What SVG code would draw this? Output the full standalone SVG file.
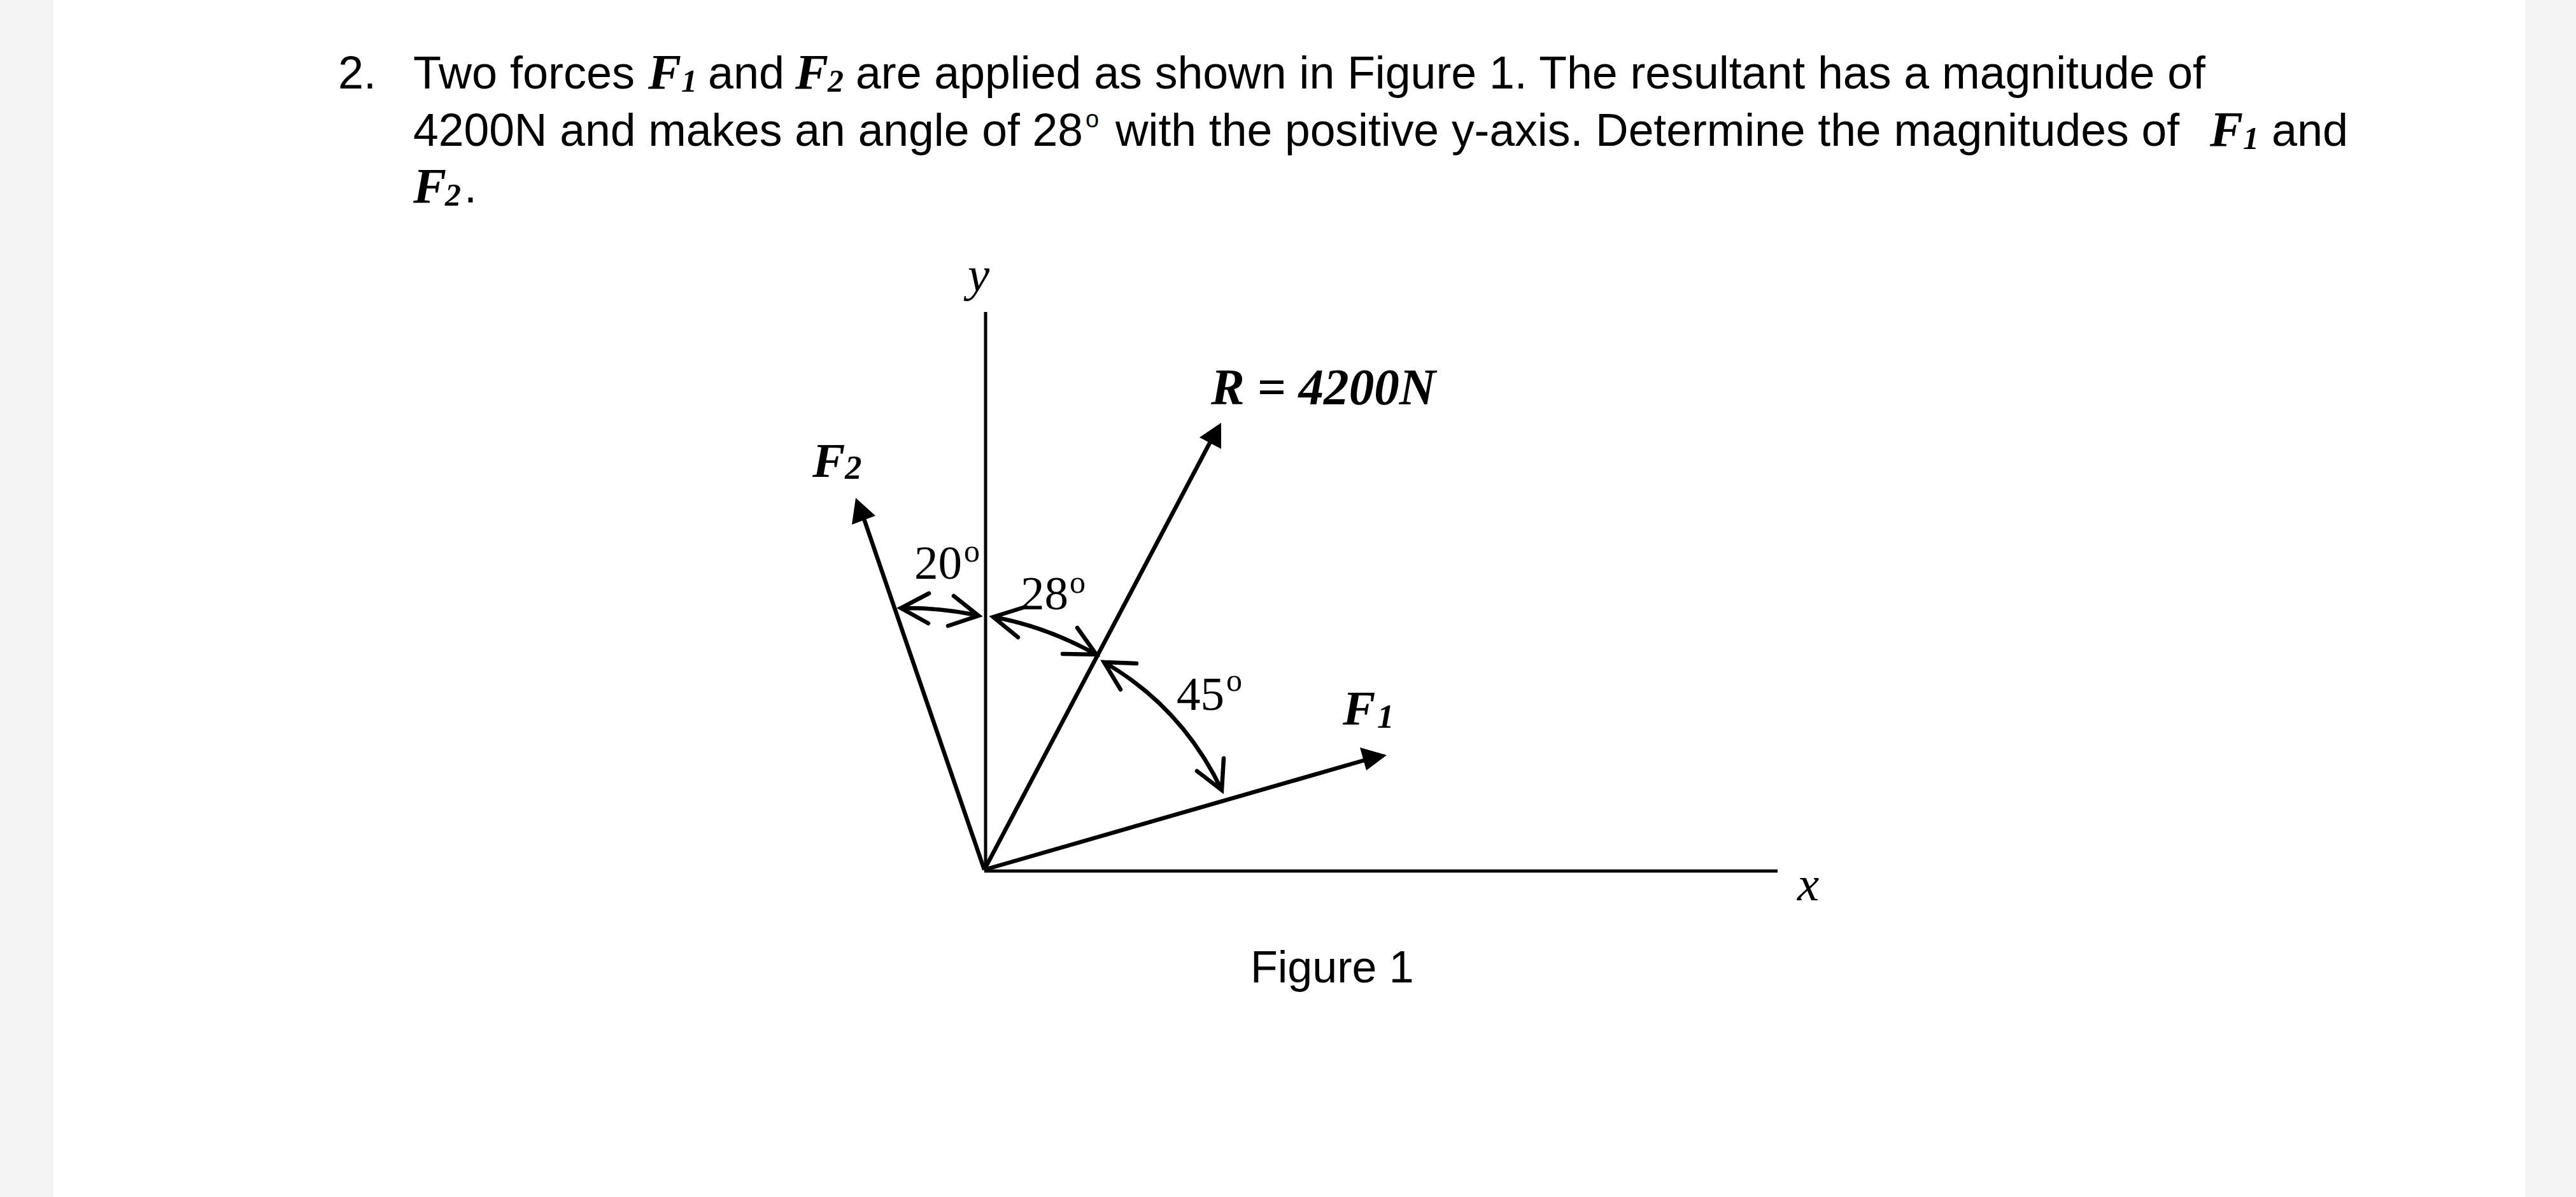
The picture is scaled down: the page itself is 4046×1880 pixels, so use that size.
<svg xmlns="http://www.w3.org/2000/svg" width="4046" height="1880" viewBox="0 0 4046 1880">
<style>
text{fill:#000}
.s{font-family:"Liberation Sans",Arial,sans-serif;font-size:72px}
.d{font-family:"Liberation Sans",Arial,sans-serif;font-size:38px}
.b{font-family:"Liberation Serif","Times New Roman",serif;font-style:italic;font-weight:bold;font-size:78px}
.bs{font-family:"Liberation Serif","Times New Roman",serif;font-style:italic;font-weight:bold;font-size:50px}
.t{font-family:"Liberation Serif","Times New Roman",serif;font-size:75px}
.o{font-family:"Liberation Serif","Times New Roman",serif;font-size:50px}
.i{font-family:"Liberation Serif","Times New Roman",serif;font-style:italic;font-size:77px}
.ax{stroke:#000;stroke-width:5;fill:none}
.v{stroke:#000;stroke-width:6.5;fill:none}
.a{stroke:#000;stroke-width:6.5;fill:none;stroke-linecap:round;stroke-linejoin:miter}
.h{fill:#000}
</style>
<rect width="4046" height="1880" fill="#f4f4f4"/>
<rect x="84" width="3882" height="1880" fill="#fff"/>
<g id="question">
<text class="s" x="531" y="139">2.</text>
<text class="s" x="649" y="139">Two forces</text>
<text class="b" x="1018" y="139">F</text><text class="bs" x="1070" y="144">1</text>
<text class="s" x="1112" y="139">and</text>
<text class="b" x="1249" y="139">F</text><text class="bs" x="1300" y="144">2</text>
<text class="s" x="1344" y="139" textLength="2120" lengthAdjust="spacingAndGlyphs">are applied as shown in Figure 1. The resultant has a magnitude of</text>
<text class="s" x="649" y="229" textLength="1052" lengthAdjust="spacingAndGlyphs">4200N and makes an angle of 28</text>
<text class="d" x="1705" y="200">o</text>
<text class="s" x="1752" y="229" textLength="1671" lengthAdjust="spacingAndGlyphs">with the positive y-axis. Determine the magnitudes of</text>
<text class="b" x="3471" y="229">F</text><text class="bs" x="3523" y="234">1</text>
<text class="s" x="3568" y="229">and</text>
<text class="b" x="649" y="318">F</text><text class="bs" x="699" y="323">2</text>
<text class="s" x="729" y="318">.</text>
</g>
<g id="connectors">
<path id="axis-y" class="ax" d="M1548 490V1368"/>
<path id="axis-x" class="ax" d="M1546 1368H2792"/>
<path id="vector-R" class="v" d="M1546 1366L1902 692"/>
<polygon class="h" points="1918,664 1884,687 1918,705"/>
<path id="vector-F2" class="v" d="M1546 1366L1356 812"/>
<polygon class="h" points="1344,782 1338,824 1375,810"/>
<path id="vector-F1" class="v" d="M1546 1366L2150 1192"/>
<polygon class="h" points="2178,1186 2136,1174 2146,1210"/>
<path id="angle-20" class="a" d="M1415 955Q1479 954 1537 967M1459 932L1415 955L1458 979M1498 936L1537 967L1489 983"/>
<path id="angle-28" class="a" d="M1560 969Q1643 984 1722 1028M1611 953L1560 969L1599 1001M1692 986L1722 1028L1669 1027"/>
<path id="angle-45" class="a" d="M1734 1040Q1856 1110 1919 1241M1785 1042L1734 1040L1760 1083M1922 1191L1919 1241L1880 1211"/>
</g>
<g id="label-y"><text class="i" x="1520" y="457">y</text></g>
<g id="label-x"><text class="i" x="2823" y="1414">x</text></g>
<g id="label-R"><text class="b" x="1902" y="635" style="font-size:80px" textLength="353" lengthAdjust="spacingAndGlyphs">R = 4200N</text></g>
<g id="label-F2"><text class="b" x="1276" y="749" style="font-size:77px">F</text><text class="bs" x="1327" y="752" style="font-size:53px">2</text></g>
<g id="label-F1"><text class="b" x="2109" y="1138" style="font-size:77px">F</text><text class="bs" x="2163" y="1143" style="font-size:53px">1</text></g>
<g id="label-20"><text class="t" x="1436" y="909">20</text><text class="o" x="1514" y="882">o</text></g>
<g id="label-28"><text class="t" x="1603" y="957">28</text><text class="o" x="1680" y="931">o</text></g>
<g id="label-45"><text class="t" x="1848" y="1115">45</text><text class="o" x="1926" y="1085">o</text></g>
<g id="caption"><text class="s" x="1964" y="1543" style="font-size:70px">Figure 1</text></g>
</svg>
